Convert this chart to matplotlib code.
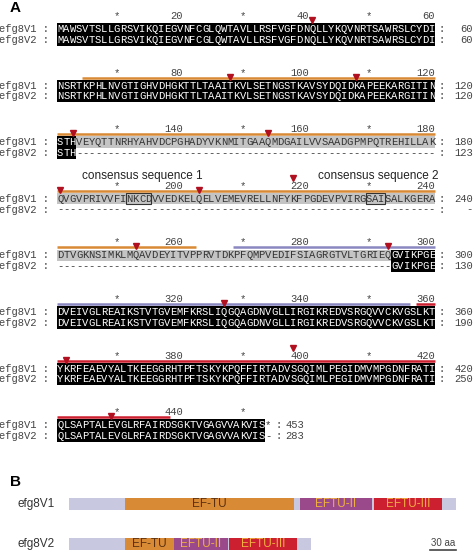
import matplotlib.pyplot as plt
from matplotlib.patches import Rectangle

v1_rows = [
    "MAWSVTSLLGRSVIKQIEGVNFCGLQWTAVLLRSFVGFDNQLLYKQVNRTSAWRSLCYDI",
    "NSRTKPHLNVGTIGHVDHGKTTLTAAITKVLSETNGSTKAVSYDQIDKAPEEKARGITIN",
    "STHVEYQTTNRHYAHVDCPGHADYVKNMITGAAQMDGAILVVSAADGPMPQTREHILLAK",
    "QVGVPRIVVFINKCDVVEDKELQELVEMEVRELLNFYKFPGDEVPVIRGSAISALKGERA",
    "DTVGKNSIMKLMQAVDEYITVPPRVTDKPFQMPVEDIFSIAGRGTVLTGRIEQGVIKPGE",
    "DVEIVGLREAIKSTVTGVEMFKRSLIQGQAGDNVGLLIRGIKREDVSRGQVVCKVGSLKT",
    "YKRFEAEVYALTKEEGGRHTPFTSKYKPQFFIRTADVSGQIMLPEGIDMVMPGDNFRATI",
    "QLSAPTALEVGLRFAIRDSGKTVGAGVVAKVIS*",
]
v2_rows = [
    v1_rows[0],
    v1_rows[1],
    "STH" + "-" * 57,
    "-" * 60,
    "-" * 53 + "GVIKPGE",
    v1_rows[5],
    v1_rows[6],
    "QLSAPTALEVGLRFAIRDSGKTVGAGVVAKVIS-",
]
v1_ends = ["60", "120", "180", "240", "300", "360", "420", "453"]
v2_ends = ["60", "120", "123", "-", "130", "190", "250", "283"]
# aligned columns (1-based, per block) where V1 only (gray shading)
gray_ranges = {2: (4, 60), 3: (1, 60), 4: (1, 53)}
# domain annotation lines above the alignment: (block, start col, end col, colour)
dom_lines = [(1, 5, 60, "#d98a35"), (2, 1, 60, "#d98a35"), (3, 1, 60, "#d98a35"),
             (4, 1, 22, "#d98a35"), (4, 29, 60, "#8a88c0"), (5, 1, 56, "#8a88c0"),
             (5, 58, 60, "#cc2030"), (6, 1, 60, "#cc2030"), (7, 1, 18, "#cc2030")]
# red triangles: (block, col, raised)
marks = [(0, 41, 0), (1, 28, 0), (1, 48, 0), (2, 3, 0), (2, 34, 0), (3, 1, 0),
         (3, 23, 0), (3, 38, 1), (4, 13, 0), (4, 53, 0), (5, 27, 0), (6, 2, 0),
         (6, 38, 1), (7, 9, 0)]
consensus = [(3, 12, 15, "consensus sequence 1"), (3, 50, 52, "consensus sequence 2")]

# panel B domains (aa)
v1_len, v2_len = 453, 283
v1_doms = [(66, 263, "EF-TU", "#d98a35", "#5a3010"), (270, 355, "EFTU-II", "#9a4a8a", "#f0b040"),
           (357, 437, "EFTU-III", "#cc2030", "#f0b040")]
v2_doms = [(66, 123, "EF-TU", "#d98a35", "#5a3010"), (123, 186, "EFTU-II", "#9a4a8a", "#f0b040"),
           (187, 267, "EFTU-III", "#cc2030", "#f0b040")]

fig = plt.figure(figsize=(4.74, 5.6), dpi=100)
ax = fig.add_axes([0, 0, 1, 1])
ax.set_xlim(0, 474)
ax.set_ylim(560, 0)
ax.axis("off")

x0, cw = 57.0, 6.3
mono = dict(family="Liberation Mono", fontsize=7.6, va="center")


def cx(col):
    return x0 + (col - 0.5) * cw


ax.text(10, 8, "A", fontsize=11, fontweight="bold", va="center", family="Liberation Sans")
for b in range(8):
    r1 = 29 + 56.6 * b
    r2 = r1 + 10.8
    s1, s2 = v1_rows[b], v2_rows[b]
    n = 33 if b == 7 else 60
    # ruler
    for c in (10, 30, 50):
        if c <= 30 or b < 7:
            ax.text(cx(c), r1 - 13, "*", ha="center", color="#444", **mono)
    for c in (20, 40, 60):
        if b < 7 or c == 20:
            ax.text(x0 + c * cw, r1 - 13, str(b * 60 + c), ha="right", color="#444", **mono)
    # shading
    g = gray_ranges.get(b)
    if g is None:
        ax.add_patch(Rectangle((x0, r1 - 5.8), n * cw, r2 - r1 + 11.6, color="black", lw=0))
    else:
        ax.add_patch(Rectangle((x0 + (g[0] - 1) * cw, r1 - 5.8), (g[1] - g[0] + 1) * cw, 11.2,
                               color="#c4c4c4", lw=0))
        if b == 2:
            ax.add_patch(Rectangle((x0, r1 - 5.8), 3 * cw, r2 - r1 + 11.6, color="black", lw=0))
        if b == 4:
            ax.add_patch(Rectangle((x0 + 53 * cw, r1 - 5.8), 7 * cw, r2 - r1 + 11.6, color="black", lw=0))
    for i, (a1, a2) in enumerate(zip(s1, s2)):
        c = i + 1
        gray = g is not None and g[0] <= c <= g[1]
        col1 = "white" if c <= n and not gray else "#333"
        col2 = "white" if (c <= n and g is None) or (b == 2 and c <= 3) or (b == 4 and c > 53) else "#333"
        ax.text(cx(c), r1, a1, ha="center", color=col1, **mono)
        ax.text(cx(c), r2, a2, ha="center", color=col2, **mono)
    for y, nm, e in ((r1, "efg8V1", v1_ends[b]), (r2, "efg8V2", v2_ends[b])):
        ax.text(-1, y, nm + " :", ha="left", color="#444", **mono)
        xe = x0 + len(s1) * cw + 4
        ax.text(xe, y, ":", ha="left", color="#444", **mono)
        if b < 7:
            ax.text(473, y, e, ha="right", color="#444", **mono)
        else:
            ax.text(xe + 10, y, e, ha="left", color="#444", **mono)

for b, c0, c1, colr in dom_lines:
    y = 29 + 56.6 * b - 8
    ax.plot([x0 + (c0 - 1) * cw, x0 + c1 * cw], [y, y], color=colr, lw=1.8, solid_capstyle="butt")
for b, c, raised in marks:
    y = 29 + 56.6 * b - (21 if raised else 9)
    ax.plot(cx(c), y, marker="v", color="#b01020", ms=4, ls="none")
for b, c0, c1, lab in consensus:
    r1 = 29 + 56.6 * b
    ax.add_patch(Rectangle((x0 + (c0 - 1) * cw, r1 - 5.5), (c1 - c0 + 1) * cw, 11,
                           fill=False, ec="#333", lw=0.8))
    ax.text(x0 + (c0 + c1) / 2 * cw, r1 - 23, lab, ha="center", va="center",
            fontsize=8.5, family="Liberation Sans", color="#222")

# panel B
ax.text(10, 482, "B", fontsize=11, fontweight="bold", va="center", family="Liberation Sans")
px0, ppa = 69.0, 387.0 / 453
for y, nm, ln, doms in ((504, "efg8V1", v1_len, v1_doms), (544, "efg8V2", v2_len, v2_doms)):
    ax.text(18, y, nm, ha="left", va="center", fontsize=8.5, family="Liberation Sans", color="#333")
    ax.add_patch(Rectangle((px0, y - 6), ln * ppa, 12, color="#c8c8e0", lw=0))
    for a, e, lab, fc, tc in doms:
        ax.add_patch(Rectangle((px0 + a * ppa, y - 6), (e - a) * ppa, 12, color=fc, lw=0))
        ax.text(px0 + (a + e) / 2 * ppa, y, lab, ha="center", va="center", fontsize=8.5,
                family="Liberation Sans", color=tc)
ax.plot([px0 + 423 * ppa, px0 + 453 * ppa], [550, 550], color="#444", lw=1.2)
ax.text(px0 + 438 * ppa, 543, "30 aa", ha="center", va="center", fontsize=7,
        family="Liberation Sans", color="#444")

fig.savefig("out.png", dpi=100)
